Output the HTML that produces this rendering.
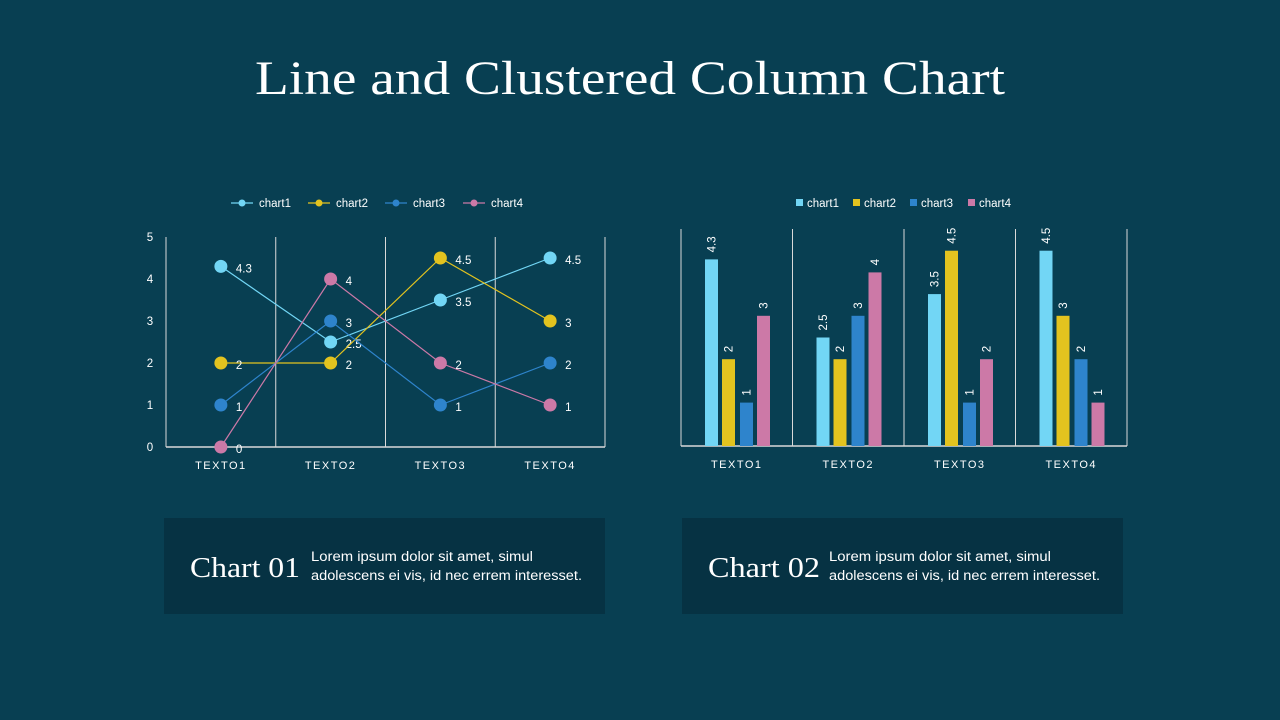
<!DOCTYPE html>
<html><head><meta charset="utf-8"><style>
body{margin:0;width:1280px;height:720px;background:#083f52;overflow:hidden;font-family:"Liberation Sans",sans-serif}
svg{position:absolute;left:0;top:0}
</style></head><body>
<svg id="s" width="1280" height="720">
<text x="255" y="94" textLength="750" lengthAdjust="spacingAndGlyphs" font-family="Liberation Serif, serif" font-size="48" fill="#fff">Line and Clustered Column Chart</text>
<g>
<rect x="164" y="518" width="441" height="96" fill="#063243"/>
<text x="190" y="577" textLength="110" lengthAdjust="spacingAndGlyphs" font-family="Liberation Serif, serif" font-size="28" fill="#fff">Chart 01</text>
<text x="311" y="561" textLength="222" lengthAdjust="spacingAndGlyphs" font-size="13.5" fill="#fff">Lorem ipsum dolor sit amet, simul</text>
<text x="311" y="580" textLength="271" lengthAdjust="spacingAndGlyphs" font-size="13.5" fill="#fff">adolescens ei vis, id nec errem interesset.</text>
</g>
<g>
<rect x="682" y="518" width="441" height="96" fill="#063243"/>
<text x="708" y="577" textLength="112" lengthAdjust="spacingAndGlyphs" font-family="Liberation Serif, serif" font-size="28" fill="#fff">Chart 02</text>
<text x="829" y="561" textLength="222" lengthAdjust="spacingAndGlyphs" font-size="13.5" fill="#fff">Lorem ipsum dolor sit amet, simul</text>
<text x="829" y="580" textLength="271" lengthAdjust="spacingAndGlyphs" font-size="13.5" fill="#fff">adolescens ei vis, id nec errem interesset.</text>
</g>
<g id="lc"></g>
<g id="bc"></g>
</svg>
<script>
const categories=["TEXTO1","TEXTO2","TEXTO3","TEXTO4"];
const seriesNames=["chart1","chart2","chart3","chart4"];
const chart1=[4.3,2.5,3.5,4.5];
const chart2=[2,2,4.5,3];
const chart3=[1,3,1,2];
const chart4=[0,4,2,1];
const barChart1=[4.3,2.5,3.5,4.5];
const barChart2=[2,2,4.5,3];
const barChart3=[1,3,1,2];
const barChart4=[3,4,2,1];
const yTicks=[0,1,2,3,4,5];
const colors=["#72d6f5","#e3c31f","#2e84cc","#cc79a7"];
const series=[chart1,chart2,chart3,chart4];
const barSeries=[barChart1,barChart2,barChart3,barChart4];
const NS="http://www.w3.org/2000/svg";
function mk(p,t,a){const e=document.createElementNS(NS,t);for(const k in a)e.setAttribute(k,a[k]);p.appendChild(e);return e;}
const lc=document.getElementById('lc');
const L={x0:166,x1:605,y0:447,y1:237,max:5};
const lx=i=>L.x0+(L.x1-L.x0)/categories.length*(i+0.5);
const ly=v=>L.y0-(L.y0-L.y1)*v/L.max;
for(let i=0;i<=categories.length;i++){const x=L.x0+(L.x1-L.x0)/categories.length*i;
 const g=mk(lc,'line',{x1:x,x2:x,y1:L.y1,y2:L.y0,stroke:'#d9d9d9','stroke-width':1});
 
 }
const ax=mk(lc,'line',{x1:L.x0,x2:L.x1,y1:L.y0,y2:L.y0,stroke:'#d9d9d9','stroke-width':1.5});


yTicks.forEach(v=>{const t=mk(lc,'text',{x:150,y:ly(v)+4,'text-anchor':'middle','font-size':11.5,fill:'#fff'});t.textContent=v;
 
 });
categories.forEach((c,i)=>{const t=mk(lc,'text',{x:lx(i),y:469,'text-anchor':'middle','font-size':11,fill:'#fff','letter-spacing':'1.5'});t.textContent=c;
 
 });
series.forEach((s,k)=>{const pl=mk(lc,'polyline',{points:s.map((v,i)=>lx(i)+','+ly(v)).join(' '),fill:'none',stroke:colors[k],'stroke-width':1.2});
 
 
 s.forEach((v,i)=>{const c=mk(lc,'circle',{cx:lx(i),cy:ly(v),r:6.5,fill:colors[k]});
  
  
  const t=mk(lc,'text',{x:lx(i)+15,y:ly(v)+6,'font-size':11.5,fill:'#fff'});t.textContent=v;
  
  });});
const lgx=[231,308,385,463];
seriesNames.forEach((n,k)=>{const g=mk(lc,'g',{});
 
 
 mk(g,'line',{x1:lgx[k],x2:lgx[k]+22,y1:203,y2:203,stroke:colors[k],'stroke-width':1.2});
 mk(g,'circle',{cx:lgx[k]+11,cy:203,r:3.5,fill:colors[k]});
 const t=mk(g,'text',{x:lgx[k]+28,y:207,'font-size':11.5,fill:'#fff'});t.textContent=n;});
const bc=document.getElementById('bc');
const B={x0:681,x1:1127,y0:446,y1:229,max:5};
const gw=(B.x1-B.x0)/categories.length;
const by=v=>B.y0-(B.y0-B.y1)*v/B.max;
const offs=[24,41,59,76];
for(let i=1;i<=categories.length;i++){const x=B.x0+gw*i;
 const g=mk(bc,'line',{x1:x,x2:x,y1:B.y1,y2:B.y0,stroke:'#d9d9d9','stroke-width':1});
 
 }
const l0=mk(bc,'line',{x1:B.x0,x2:B.x0,y1:B.y1,y2:B.y0,stroke:'#d9d9d9','stroke-width':1});


const bx=mk(bc,'line',{x1:B.x0,x2:B.x1,y1:B.y0,y2:B.y0,stroke:'#d9d9d9','stroke-width':1.5});


categories.forEach((c,i)=>{const t=mk(bc,'text',{x:B.x0+gw*(i+0.5),y:468,'text-anchor':'middle','font-size':11,fill:'#fff','letter-spacing':'1.5'});t.textContent=c;
 
 });
barSeries.forEach((s,k)=>s.forEach((v,i)=>{const x=B.x0+gw*i+offs[k];
 const r=mk(bc,'rect',{x:x,y:by(v),width:13,height:B.y0-by(v),fill:colors[k]});
 
 
 const t=mk(bc,'text',{x:0,y:0,'font-size':11.5,fill:'#fff',transform:`translate(${x+10.5},${by(v)-7}) rotate(-90)`});t.textContent=v;
 
 }));
const bgx=[796,853,910,968];
seriesNames.forEach((n,k)=>{const g=mk(bc,'g',{});
 
 
 mk(g,'rect',{x:bgx[k],y:199,width:7,height:7,fill:colors[k]});
 const t=mk(g,'text',{x:bgx[k]+11,y:207,'font-size':11.5,fill:'#fff'});t.textContent=n;});
</script>
</body></html>
